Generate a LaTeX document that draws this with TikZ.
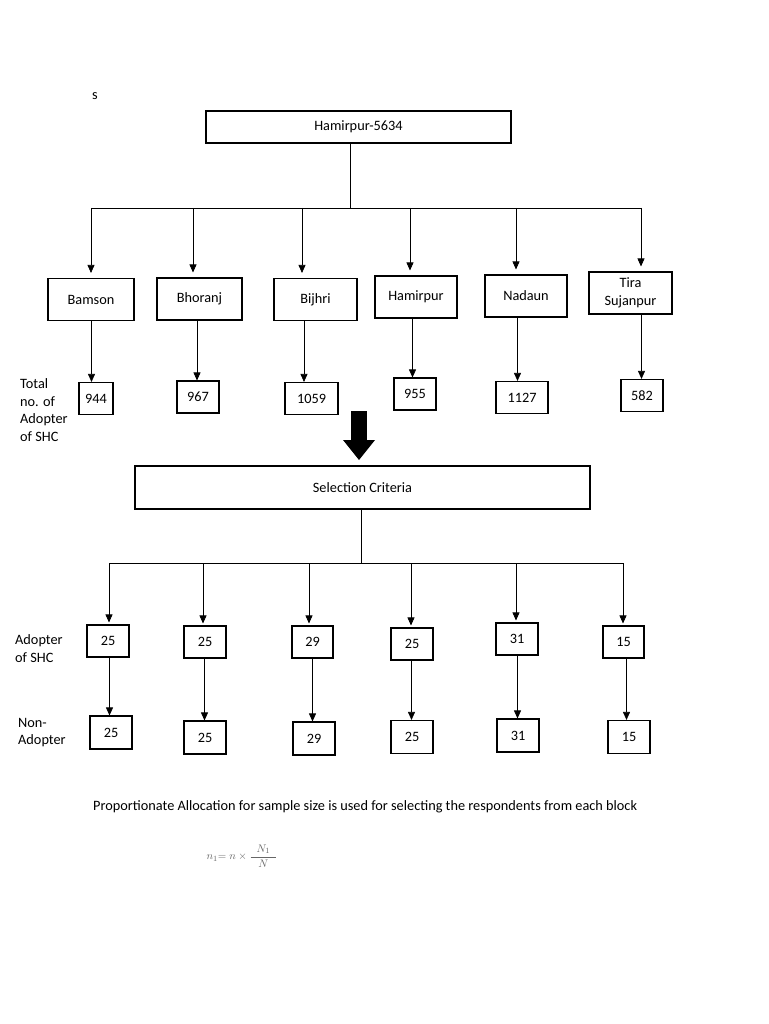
\documentclass[tikz,border=0pt]{standalone}
\usepackage{fontspec}
\setmainfont{Carlito}
\usetikzlibrary{arrows.meta}

\begin{document}
\begin{tikzpicture}[x=1pt, y=-1pt,
  box/.style={draw, line width=1.1pt, inner sep=0pt, minimum height=42, align=center},
  numbox/.style={draw, line width=1.1pt, inner sep=0pt, minimum width=42, minimum height=32},
  link/.style={line width=0.7pt},
  arr/.style={line width=0.7pt, -{Triangle[width=7pt,length=8pt]}},
  lbl/.style={anchor=west, align=left, inner sep=0pt},
  font=\fontsize{14.3}{17.5}\selectfont]
\fill[white] (0,0) rectangle (768,1024);
\useasboundingbox (0,0) rectangle (768,1024);

\node[inner sep=0pt] (mark) at (95,96) {s};

% District level
\node[box, minimum width=305, minimum height=32] (top) at (358.5,127) {Hamirpur-5634};
\coordinate (j1) at (350,208);
\draw[link] (top.south -| j1) -- (j1);

% Blocks and total adopters
\foreach \i/\tx/\bx/\by/\bw/\t/\ax/\nx/\ny/\nw/\nn in {
    1/91/91/299.5/86/Bamson/91.5/96/398.5/34/944,
    2/193/199.5/299/85/Bhoranj/197/198/397/42/967,
    3/302/315.5/299.5/83/Bijhri/304/311.5/398.5/53/1059,
    4/410/416/297/82/Hamirpur/412.5/415/394/42/955,
    5/516/526/296/82/Nadaun/517.5/522/397.5/52/1127,
    6/641/630.5/293/83/{Tira\\Sujanpur}/641.5/642/395.5/42/582} {
    \coordinate (t\i) at (\tx,208);
    \coordinate (a\i) at (\ax,350);
    \node[box, minimum width=\bw] (b\i) at (\bx,\by) {\t};
    \node[numbox, minimum width=\nw] (n\i) at (\nx,\ny) {\nn};
    \draw[arr, shorten >=5pt] (t\i) -- (t\i |- b\i.north);
    \draw[arr] (b\i.south -| a\i) -- (n\i.north -| a\i);
}
\draw[link] (t1) -- (t6);
\node[lbl] (total) at (20,410) {Total\\no. of\\Adopter\\of SHC};

% Big arrow
\fill (351,411) rectangle (367,441);
\fill (343,440) -- (375,440) -- (359,460) -- cycle;

% Selection
\node[box, minimum width=455, minimum height=43] (sel) at (362.5,487.5) {Selection Criteria};
\coordinate (j2) at (361,563);
\draw[link] (sel.south -| j2) -- (j2);

% Adopter and non-adopter samples
\foreach \i/\sx/\ax/\ux/\uy/\uw/\u/\lx/\ly/\l in {
    1/109/109.5/108/641/42/25/111/732.5/25,
    2/203/204.5/205/642/42/25/205/737.5/25,
    3/309/312.5/312.5/642/41/29/314/738.5/29,
    4/411/411.5/412/644/42/25/412/737/25,
    5/516/517.5/517/639/42/31/518/735.5/31,
    6/623/626.5/623.5/642/41/15/629/737/15} {
    \coordinate (s\i) at (\sx,563);
    \coordinate (c\i) at (\ax,690);
    \node[numbox, minimum width=\uw] (u\i) at (\ux,\uy) {\u};
    \node[numbox, minimum height=33] (l\i) at (\lx,\ly) {\l};
    \draw[arr, shorten >=2pt] (s\i) -- (s\i |- u\i.north);
    \draw[arr] (u\i.south -| c\i) -- (l\i.north -| c\i);
}
\draw[link] (s1) -- (s6);
\node[lbl] (adopt) at (15,648.5) {Adopter\\of SHC};
\node[lbl] (nonadopt) at (18,732.5) {Non-\\Adopter};

% Note and formula
\node[lbl] (note) at (93,807) {Proportionate Allocation for sample size is used for selecting the respondents from each block};
\node[inner sep=0pt, text=black!60, font=\fontsize{11}{12}\selectfont] (formula) at (242,856) {$\displaystyle n_1{=}\;n \times \frac{\;\;N_1\;\;}{N}$};
\end{tikzpicture}
\end{document}
